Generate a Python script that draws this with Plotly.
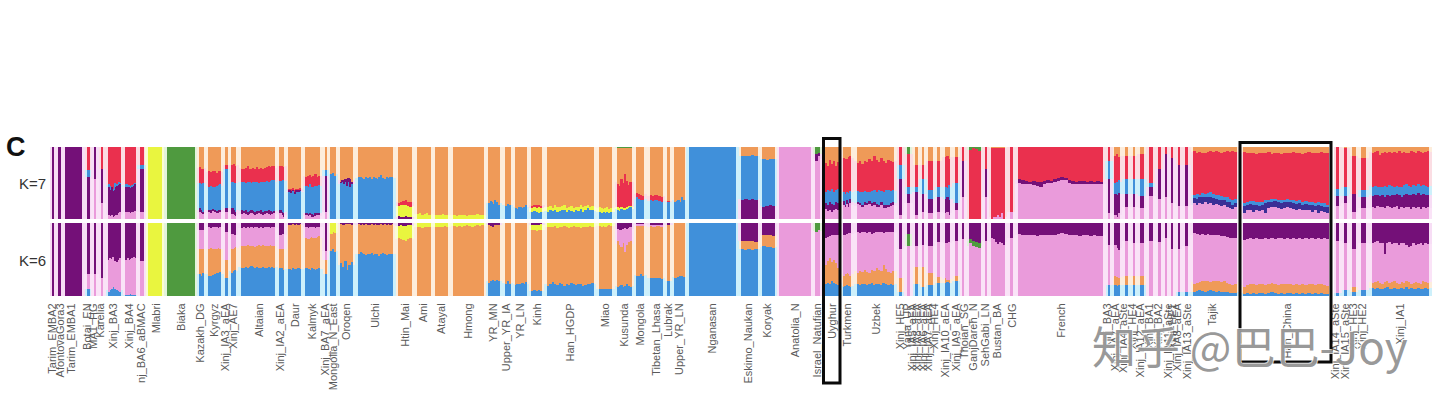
import plotly.graph_objects as go

# Ancestry colours, one per inferred component
colors = {"g": "#4F9A3F", "o": "#EF9A58", "r": "#EA304E", "y": "#E9F53F",
          "b": "#4090DA", "d": "#3B2F96", "p": "#741078", "k": "#EA9BDB"}
# Pale tint of each component, seen in the gaps beside a column
tints = {"g": "#E2F3DC", "o": "#FDEDDC", "r": "#FBDDE3", "y": "#FAFDD2",
         "b": "#CDF0FB", "d": "#E6E2F6", "p": "#F7DDF5", "k": "#FAE3F7"}

# Population columns: name, first and last sample position on the axis, label position
populations = [
    "Tarim_EMBA2", "AfontovaGora3", "Tarim_EMBA1", "Botai_EN", "MA1_HG", "Karelia", "Xinj_BA3", "Xinj_BA4",
    "nj_BA6_aBMAC", "Mlabri", "Biaka", "Kazakh_DG", "Kyrgyz", "Xinj_IA3_aEA", "Xinj_AE7", "Altaian",
    "Xinj_IA2_aEA", "Daur", "Kalmyk", "Xinj_BA7_aEA", "Mongolia_N_East", "Oroqen", "Ulchi", "Htin_Mai",
    "Ami", "Atayal", "Hmong", "YR_MN", "Upper_YR_IA", "YR_LN", "Kinh", "Han_HGDP", "Miao", "Kusunda",
    "Mongola", "Tibetan_Lhasa", "Lubrak", "Upper_YR_LN", "Nganasan", "Eskimo_Naukan", "Koryak",
    "Anatolia_N", "Israel_Natufian", "Uyghur", "Turkmen", "Uzbek", "Xinj_HE5", "Yana_UP", "Xinj_IA5_aEA",
    "Xinj_IA8_aEA", "Xinj_IA6_aEA", "Xinj_IA7_aEA", "Xinj_HE4", "Xinj_IA10_aEA", "Xinj_IA9_aEA", "Thoian_SG",
    "GanjDareh_N", "SehGabi_LN", "Bustan_BA", "CHG", "French", "Xinj_BA3b", "Xinj_IA7b_aEA", "Xinj_IA4_aSte",
    "Xinj_HE4b", "Xinj_IA12_aEA", "Xinj_BA1", "Xinj_BA2", "Xinj_IA11_aSte", "Xinj_HE1", "Xinj_IA8b_aEA",
    "Xinj_IA13_aSte", "Tajik", "Han_China", "Xinj_IA14_aSte", "Xinj_IA15_aSte", "Xinj_HE3", "Xinj_HE2", "Xinj_IA1",
]
# Populations sampled twice share a printed name
printed_names = {"Xinj_BA3b": "Xinj_BA3", "Xinj_IA7b_aEA": "Xinj_IA7_aEA",
                 "Xinj_HE4b": "Xinj_HE4", "Xinj_IA8b_aEA": "Xinj_IA8_aEA"}
column_start = [
    52.7, 59, 65, 86.7, 94, 100.7, 108.3, 126, 140, 147.7, 166.7, 199.3, 208.3, 226, 232, 241, 280, 288.7,
    306, 324.7, 331, 340.3, 357.7, 397.7, 416.7, 435.3, 453, 488.7, 504.7, 515.3, 531.3, 547, 598.7, 617.3,
    636.3, 649.7, 667, 674.3, 689, 740.7, 762.3, 779.3, 815.3, 825, 843.3, 856.7, 899.3, 906.7, 914.7, 922,
    928.3, 930.8, 937.3, 944.7, 955, 962.7, 969, 984.7, 990.7, 1009.7, 1017.7, 1107.7, 1114.7, 1125, 1132.7,
    1140, 1149, 1158, 1165.3, 1171.3, 1177.7, 1185, 1193, 1242.7, 1336.3, 1344, 1352, 1361, 1371.7,
]
column_end = [
    54.3, 60.7, 82, 90, 96, 103, 121.3, 136, 143.7, 161.7, 195, 203.7, 221.3, 227.7, 236.3, 275.3, 284.3, 301.3,
    320, 326.7, 335.7, 352.7, 393.3, 411.7, 430.7, 448, 484, 499.7, 510.7, 526.7, 542.3, 593.7, 612.3, 631.7,
    644.3, 662.7, 670, 685, 736, 757.7, 775.3, 810.7, 820, 839, 851.3, 894.3, 902, 910, 917.7, 924,
    930.8, 933.3, 940.3, 950.3, 958, 964, 980.7, 986.7, 1005.3, 1013, 1103.3, 1110, 1120, 1128.3, 1135.3,
    1144.3, 1153.3, 1160.7, 1167, 1173, 1180.3, 1188.3, 1236.7, 1329, 1339.3, 1347.3, 1355.7, 1366.3, 1429.3,
]
label_pos = [
    52, 60, 71.7, 87, 93, 100.7, 113, 129, 141.7, 156, 181, 200.7, 214, 225, 233, 259, 280, 295.7,
    312.7, 325, 333, 346, 375.7, 405, 423, 441, 468, 493, 506, 520.7, 537, 570, 605.7, 624,
    640, 656, 668, 679, 712.7, 748, 767, 795, 817, 832, 847, 876, 900, 907.7, 912, 917.5,
    923, 928.5, 934, 945.7, 956, 964, 973, 985, 997.7, 1012, 1061.7, 1107, 1115, 1123.5, 1132,
    1140, 1149, 1158, 1168, 1172, 1177.5, 1187, 1212.7, 1287, 1335.7, 1345, 1353, 1362, 1400,
]

# Lower edge (percent of the column) of every component, listed top to bottom.
# A list with several values gives one edge per individual in the column.
k7 = {
    "Tarim_EMBA2": {"p": [100]}, "AfontovaGora3": {"p": [100]}, "Tarim_EMBA1": {"p": [100]},
    "Botai_EN": {"r": [32], "b": [42], "p": [100]},
    "MA1_HG": {"p": [45], "k": [100]},
    "Karelia": {"r": [30], "p": [78], "k": [100]},
    "Xinj_BA3": {"r": [52, 54, 55, 58, 50, 53, 52, 49, 50], "b": [56, 60, 54, 61, 60, 56, 54, 53, 52],
                 "p": [94, 96, 95, 97, 96, 95, 94, 92, 90], "k": [100]},
    "Xinj_BA4": {"r": [52, 54, 53, 55, 54, 52, 50], "b": [56, 58, 56, 57, 55, 54, 52],
                 "p": [90, 92, 90, 91, 90, 90, 89], "k": [100]},
    "nj_BA6_aBMAC": {"r": [25], "b": [30], "p": [90], "k": [100]},
    "Mlabri": {"y": [100]}, "Biaka": {"g": [100]},
    "Kazakh_DG": {"o": [28, 31, 30], "r": [50, 52, 50], "b": [85, 88, 90], "p": [90, 92, 93], "k": [100]},
    "Kyrgyz": {"o": [34, 35, 33, 34, 36, 33, 34], "r": [55, 54, 56, 55, 54, 53, 52],
               "b": [87, 88, 86, 87, 89, 88, 87], "p": [90, 91, 89, 90, 92, 91, 90], "k": [100]},
    "Xinj_IA3_aEA": {"o": [25], "r": [30], "b": [85], "p": [90], "k": [100]},
    "Xinj_AE7": {"o": [25, 24, 27], "r": [48, 52, 50], "b": [85, 88, 90], "p": [93, 94, 96], "k": [100]},
    "Altaian": {"o": [31, 30, 29, 26, 30, 31, 29, 30, 28, 31, 29, 30, 29, 28, 27, 28, 27, 26],
                "r": [49, 48, 50, 49, 48, 50, 49, 49, 48, 50, 49, 48, 49, 47, 48, 47, 46, 46],
                "b": [88, 89, 88, 90, 89, 88, 89, 90, 89, 89, 88, 90, 89, 89, 88, 89, 90, 89],
                "p": [93, 92, 93, 94, 93, 92, 93, 94, 93, 92, 93, 94, 93, 92, 93, 94, 93, 92], "k": [100]},
    "Xinj_IA2_aEA": {"o": [27, 26, 28], "r": [47, 48, 46], "b": [88, 90, 92], "p": [92, 94, 97], "k": [100]},
    "Daur": {"o": [58, 59, 57, 60, 58, 59, 57], "r": [61, 62, 60, 63, 61, 61, 60], "p": [62, 63, 61, 64, 62, 62, 61],
             "b": [100]},
    "Kalmyk": {"o": [41, 40, 39, 41, 40, 38, 41, 40], "r": [54, 55, 52, 55, 56, 54, 54, 53],
               "b": [92, 93, 91, 93, 94, 92, 91, 92], "p": [95, 96, 94, 97, 97, 96, 95, 94], "k": [100]},
    "Xinj_BA7_aEA": {"o": [32], "b": [40], "p": [90], "k": [100]},
    "Mongolia_N_East": {"o": [38, 36, 40], "b": [100]},
    "Oroqen": {"o": [49, 47, 46, 44, 47, 43, 45, 48], "p": [50, 49, 52, 48, 54, 48, 55, 51], "b": [100]},
    "Ulchi": {"o": [42, 41, 43, 44, 42, 43, 41, 44, 42, 43, 45, 42, 39, 43, 44, 42, 43, 42, 41],
              "b": [100]},
    "Htin_Mai": {"o": [78, 76, 75, 74, 76, 77], "r": [82, 81, 80, 80, 82, 83], "y": [96, 97, 97, 96, 97, 97], "p": [100]},
    "Ami": {"o": [93, 92, 94, 93, 92, 95], "y": [100]},
    "Atayal": {"o": [94, 95, 94, 93, 95, 94], "y": [100]},
    "Hmong": {"o": [95, 96, 95, 94, 95, 96, 95, 94, 95, 93, 94, 95], "y": [100]},
    "YR_MN": {"o": [78, 75, 76, 79, 74, 78, 77, 80], "b": [100]},
    "Upper_YR_IA": {"o": [82, 79, 80], "b": [100]},
    "YR_LN": {"o": [85, 86, 84, 83, 85, 84, 80], "b": [100]},
    "Kinh": {"o": [82, 81, 80, 81, 82], "r": [85, 84, 85, 84, 85], "y": [90, 89, 90, 91, 90], "b": [100]},
    "Han_HGDP": {"o": [84, 82, 85, 81, 83, 84, 82, 81, 85, 83, 82, 85, 84, 83, 81, 84, 82, 80, 84, 82],
                 "y": [90, 88, 89, 87, 90, 89, 87, 88, 90, 88, 89, 90, 87, 89, 86, 90, 87, 85, 88, 87], "b": [100]},
    "Miao": {"o": [84, 85, 86, 85, 84, 86, 85], "y": [90, 91, 90, 91, 90, 91, 90], "b": [100]},
    "Kusunda": {"g": [2], "o": [52, 54, 45, 50, 38, 47, 53, 49], "r": [83, 85, 84, 86, 85, 84, 83, 82],
                "y": [87, 89, 86, 88, 87, 86, 85, 84], "b": [100]},
    "Mongola": {"o": [64, 65, 66, 68], "r": [70, 72, 73, 74], "b": [100]},
    "Tibetan_Lhasa": {"o": [67, 68, 66, 67, 68, 70], "r": [74, 75, 73, 74, 75, 76], "b": [100]},
    "Lubrak": {"o": [75], "r": [77], "b": [100]},
    "Upper_YR_LN": {"o": [76, 75, 74, 76, 70, 74], "b": [100]},
    "Nganasan": {"b": [100]},
    "Eskimo_Naukan": {"o": [12, 13, 12, 11, 12], "b": [73, 72, 74, 72, 73], "p": [100]},
    "Koryak": {"o": [17, 18, 17, 16], "b": [83, 82, 80, 82], "p": [100]},
    "Anatolia_N": {"k": [100]},
    "Israel_Natufian": {"g": [10, 9], "p": [20, 12], "k": [100]},
    "Uyghur": {"o": [22, 26, 18, 24, 20, 27, 21], "r": [62, 60, 61, 59, 62, 60, 58],
               "b": [78, 80, 77, 79, 81, 76, 78], "p": [86, 89, 87, 90, 88, 86, 87], "k": [100]},
    "Turkmen": {"o": [15, 17, 16, 14, 12], "r": [63, 65, 62, 64, 61], "b": [75, 80, 74, 78, 72],
                "p": [80, 84, 79, 83, 78], "k": [100]},
    "Uzbek": {"o": [22, 20, 23, 19, 21, 17, 20, 13, 18, 21, 15, 19, 22, 18, 20, 21],
              "r": [61, 62, 63, 61, 62, 63, 61, 60, 62, 60, 61, 62, 60, 60, 61, 60],
              "b": [76, 78, 80, 77, 78, 75, 78, 77, 79, 80, 76, 80, 81, 80, 78, 76],
              "p": [79, 80, 83, 81, 80, 79, 82, 81, 83, 84, 80, 85, 85, 84, 82, 80], "k": [100]},
    "Xinj_HE5": {"r": [25], "b": [45], "p": [95], "k": [100]},
    "Yana_UP": {"g": [10], "r": [55], "b": [65], "p": [78], "k": [100]},
    "Xinj_IA5_aEA": {"o": [25], "r": [55], "b": [62], "p": [95], "k": [100]},
    "Xinj_IA8_aEA": {"o": [25], "r": [45], "b": [65], "p": [90], "k": [100]},
    "Xinj_IA6_aEA": {"o": [20], "r": [60], "b": [72], "p": [92], "k": [100]},
    "Xinj_IA7_aEA": {"o": [20], "r": [60], "b": [72], "p": [92], "k": [100]},
    "Xinj_HE4": {"o": [20], "r": [55], "b": [70], "p": [90], "k": [100]},
    "Xinj_IA10_aEA": {"o": [14, 13, 16], "r": [55, 57, 53], "b": [72, 70, 74], "p": [92, 90, 95], "k": [100]},
    "Xinj_IA9_aEA": {"o": [14], "r": [50], "b": [78], "p": [88], "k": [100]},
    "Thoian_SG": {"r": [20], "p": [70], "k": [100]},
    "GanjDareh_N": {"g": [4, 2, 3, 5], "r": [100]},
    "SehGabi_LN": {"r": [30], "p": [70], "k": [100]},
    "Bustan_BA": {"o": [1], "r": [100, 98, 97, 94, 98, 92, 100], "k": [100]},
    "CHG": {"r": [90], "k": [100]},
    "French": {"r": [45, 46, 47, 48, 47, 48, 49, 47, 46, 47, 45, 43, 42, 43, 46, 47, 48, 47, 47, 48, 47, 48, 47, 48],
               "p": [50, 51, 52, 52, 53, 54, 55, 52, 50, 50, 49, 47, 46, 46, 50, 52, 52, 52, 51, 52, 51, 52, 51, 52],
               "k": [100]},
    "Xinj_BA3b": {"r": [20], "b": [45], "p": [92], "k": [100]},
    "Xinj_IA7b_aEA": {"o": [12, 10, 14], "r": [50, 48, 46], "b": [65, 66, 64], "p": [95, 97, 92], "k": [100]},
    "Xinj_IA4_aSte": {"o": [12], "r": [45], "b": [65], "p": [83], "k": [100]},
    "Xinj_HE4b": {"o": [12], "r": [45], "b": [65], "p": [83], "k": [100]},
    "Xinj_IA12_aEA": {"o": [10], "r": [45], "b": [68], "p": [85], "k": [100]},
    "Xinj_BA1": {"r": [50], "b": [55], "p": [68], "k": [100]},
    "Xinj_BA2": {"r": [30], "p": [72], "k": [100]},
    "Xinj_IA11_aSte": {"r": [10], "p": [70], "k": [100]},
    "Xinj_HE1": {"r": [15], "p": [78], "k": [100]},
    "Xinj_IA8b_aEA": {"r": [25], "p": [82], "k": [100]},
    "Xinj_IA13_aSte": {"r": [25], "p": [82], "k": [100]},
    "Tajik": {"o": [6, 8, 7, 9, 8, 7, 6, 7, 5, 7, 8, 7, 6, 7, 5, 7],
              "r": [66, 65, 66, 64, 65, 64, 63, 65, 66, 67, 68, 69, 70, 72, 74, 72],
              "b": [71, 72, 70, 69, 70, 69, 69, 71, 72, 73, 74, 74, 76, 77, 80, 78],
              "d": [78, 80, 78, 79, 77, 79, 78, 80, 79, 81, 82, 81, 83, 85, 86, 83], "k": [100]},
    "Han_China": {"o": [7, 8, 9, 8, 10, 8, 9, 8, 7, 10, 9, 8, 10, 9, 8, 9, 7, 8, 9, 10, 8, 7, 8, 9, 8, 7, 8, 8],
                  "r": [78, 76, 75, 75, 76, 77, 76, 74, 73, 72, 72, 73, 74, 73, 72, 73, 74, 75, 74, 76, 75, 76, 77, 78, 77, 78, 78, 80],
                  "b": [82, 80, 79, 80, 81, 82, 81, 78, 77, 76, 75, 77, 78, 77, 76, 77, 78, 79, 78, 80, 79, 80, 81, 82, 81, 82, 83, 84],
                  "d": [92, 87, 88, 90, 88, 89, 88, 92, 85, 84, 83, 85, 86, 85, 84, 85, 86, 87, 86, 88, 87, 88, 90, 88, 91, 89, 90, 92],
                  "k": [100]},
    "Xinj_IA14_aSte": {"r": [58], "b": [68], "p": [82], "k": [100]},
    "Xinj_IA15_aSte": {"o": [2], "r": [55], "b": [68], "p": [78], "k": [100]},
    "Xinj_HE3": {"o": [12], "r": [65], "p": [90], "k": [100]},
    "Xinj_HE2": {"o": [15], "r": [60], "b": [70], "p": [85], "k": [100]},
    "Xinj_IA1": {"o": [8, 7, 6, 11, 8, 7, 9, 7, 8, 7, 9, 6, 8, 7, 8, 9, 6, 7, 8, 6, 7, 8, 7, 6],
                 "r": [55, 54, 55, 56, 55, 54, 55, 53, 54, 55, 54, 55, 55, 53, 52, 54, 55, 53, 54, 52, 54, 53, 54, 55],
                 "b": [68, 66, 67, 68, 66, 69, 67, 68, 66, 67, 65, 67, 69, 66, 65, 67, 66, 65, 66, 64, 66, 65, 67, 66],
                 "p": [83, 85, 82, 84, 83, 85, 82, 84, 85, 84, 82, 86, 84, 85, 83, 84, 86, 83, 85, 84, 86, 83, 85, 84],
                 "k": [100]},
}

k6 = {
    "Tarim_EMBA2": {"p": [100]}, "AfontovaGora3": {"p": [100]}, "Tarim_EMBA1": {"p": [100]},
    "Botai_EN": {"p": [70], "k": [90], "b": [100]},
    "MA1_HG": {"p": [70], "k": [100]},
    "Karelia": {"p": [75], "k": [100]},
    "Xinj_BA3": {"p": [50, 48, 49, 47, 52, 58, 54, 50, 48], "k": [94, 92, 90, 88, 90, 91, 92, 93, 94], "b": [100]},
    "Xinj_BA4": {"p": [50, 48, 50, 49, 48, 47, 48], "k": [99, 98, 98, 97, 98, 98, 99], "b": [100]},
    "nj_BA6_aBMAC": {"p": [52], "k": [100]},
    "Mlabri": {"y": [100]}, "Biaka": {"g": [100]},
    "Kazakh_DG": {"p": [10], "k": [35], "o": [70, 72, 68], "b": [100]},
    "Kyrgyz": {"p": [6, 7, 6, 5, 6, 7, 6], "k": [36, 34, 35, 36, 35, 34, 36], "o": [73, 72, 71, 70, 69, 68, 67], "b": [100]},
    "Xinj_IA3_aEA": {"p": [12], "k": [50], "o": [75], "b": [100]},
    "Xinj_AE7": {"p": [15, 17, 16], "k": [35, 34, 33], "o": [68, 66, 64], "b": [100]},
    "Altaian": {"p": [7, 6, 7, 6, 7, 6, 7, 6, 5, 7, 6, 7, 6, 5, 6, 7, 6, 5],
                "k": [31, 32, 31, 30, 31, 32, 31, 33, 31, 30, 32, 30, 31, 32, 31, 30, 32, 31],
                "o": [62, 61, 60, 62, 60, 59, 60, 61, 60, 62, 61, 60, 61, 62, 60, 61, 60, 61], "b": [100]},
    "Xinj_IA2_aEA": {"p": [16, 17, 15], "k": [35, 34, 36], "o": [62, 61, 64], "b": [100]},
    "Daur": {"p": [2, 3, 1, 2, 1, 2, 1], "o": [63, 64, 62, 63, 63, 62, 63], "b": [100]},
    "Kalmyk": {"p": [6, 7, 6, 5, 6, 7, 6, 5], "k": [20, 22, 20, 19, 20, 21, 19, 18], "o": [62, 63, 64, 62, 63, 64, 63, 62], "b": [100]},
    "Xinj_BA7_aEA": {"p": [38], "k": [50], "o": [70], "b": [100]},
    "Mongolia_N_East": {"y": [15, 12, 14], "o": [38, 36, 40], "b": [100]},
    "Oroqen": {"p": [1, 2, 1, 1, 1, 2], "o": [55, 60, 52, 65, 58, 54], "b": [100]},
    "Ulchi": {"p": [1, 2, 1, 2, 1, 3, 2, 1, 2, 1, 2, 3, 1, 2, 1, 2, 1, 2, 1],
              "o": [42, 40, 41, 43, 44, 42, 43, 41, 44, 42, 43, 45, 42, 41, 43, 44, 42, 43, 42], "b": [100]},
    "Htin_Mai": {"p": [4, 3, 4, 4, 3, 3], "y": [20, 22, 23, 24, 22, 20], "o": [100]},
    "Ami": {"y": [6, 5, 7, 6, 5, 6], "o": [100]},
    "Atayal": {"y": [5, 6, 5, 5, 4, 5], "o": [100]},
    "Hmong": {"y": [4, 5, 4, 5, 4, 3, 4, 5, 4, 3, 4, 3], "o": [100]},
    "YR_MN": {"p": [3, 4, 2, 5, 2, 3, 2, 3], "o": [82, 79, 81, 78, 80, 82, 78, 80], "b": [100]},
    "Upper_YR_IA": {"o": [84, 80, 84], "b": [100]},
    "YR_LN": {"o": [85, 84, 83, 84, 82, 83, 81], "b": [100]},
    "Kinh": {"p": [2, 3, 2, 2, 1], "y": [9, 10, 11, 10, 9], "o": [93, 92, 93, 92, 93], "b": [100]},
    "Han_HGDP": {"y": [6, 5, 6, 4, 7, 5, 6, 4, 5, 7, 6, 4, 6, 5, 7, 5, 6, 5, 4, 6],
                 "o": [86, 84, 81, 83, 85, 82, 84, 86, 83, 85, 82, 84, 85, 83, 84, 86, 85, 84, 83, 82], "b": [100]},
    "Miao": {"y": [4, 5, 4, 5, 4, 3, 4], "o": [90, 91, 90, 91, 90, 91, 90], "b": [100]},
    "Kusunda": {"p": [8, 10, 9, 8, 7, 8, 7, 6], "k": [24, 30, 33, 28, 40, 30, 26, 24], "o": [88, 86, 85, 87, 86, 84, 86, 87], "b": [100]},
    "Mongola": {"p": [2], "k": [4], "o": [73, 72, 70, 72], "b": [100]},
    "Tibetan_Lhasa": {"p": [3, 3, 4, 3, 3, 4], "k": [4, 5, 5, 4, 4, 5], "o": [76, 75, 76, 75, 76, 77], "b": [100]},
    "Lubrak": {"p": [3], "o": [80], "b": [100]},
    "Upper_YR_LN": {"o": [76, 75, 74, 73, 72, 74], "b": [100]},
    "Nganasan": {"b": [100]},
    "Eskimo_Naukan": {"p": [24, 25, 24, 25, 26], "o": [36, 37, 35, 37, 36], "b": [100]},
    "Koryak": {"p": [16, 17, 16, 18], "o": [31, 33, 33, 34], "b": [100]},
    "Anatolia_N": {"k": [100]},
    "Israel_Natufian": {"g": [12, 10], "k": [100]},
    "Uyghur": {"p": [20, 19, 18, 17, 16, 16, 16], "k": [58, 52, 48, 53, 50, 55, 62], "o": [84, 82, 83, 80, 82, 83, 85], "b": [100]},
    "Turkmen": {"p": [17, 16, 15, 14, 14], "k": [72, 70, 68, 70, 72], "o": [88, 86, 85, 86, 87], "b": [100]},
    "Uzbek": {"p": [13, 14, 12, 13, 14, 13, 15, 14, 13, 12, 13, 14, 12, 13, 12, 13],
              "k": [69, 66, 67, 65, 67, 68, 65, 66, 62, 65, 66, 58, 63, 67, 68, 66],
              "o": [84, 85, 84, 83, 85, 84, 82, 85, 83, 84, 85, 82, 83, 85, 84, 85], "b": [100]},
    "Xinj_HE5": {"p": [35], "k": [75], "o": [95], "b": [100]},
    "Yana_UP": {"p": [15], "g": [32], "k": [100]},
    "Xinj_IA5_aEA": {"p": [32], "k": [60], "o": [84], "b": [100]},
    "Xinj_IA8_aEA": {"p": [30], "k": [60], "o": [88], "b": [100]},
    "Xinj_IA6_aEA": {"p": [32], "k": [68], "o": [85], "b": [100]},
    "Xinj_IA7_aEA": {"p": [32], "k": [68], "o": [85], "b": [100]},
    "Xinj_HE4": {"p": [26], "k": [74], "o": [82], "b": [100]},
    "Xinj_IA10_aEA": {"p": [27, 28, 26], "k": [76, 78, 78], "o": [82, 81, 82], "b": [100]},
    "Xinj_IA9_aEA": {"p": [25], "k": [72], "o": [80], "b": [100]},
    "Thoian_SG": {"p": [22], "k": [100]},
    "GanjDareh_N": {"p": [22, 24, 26, 28], "g": [28, 31, 33, 34], "k": [100]},
    "SehGabi_LN": {"p": [25], "k": [100]},
    "Bustan_BA": {"p": [20, 22, 26, 29, 26, 28, 30], "k": [100]},
    "CHG": {"p": [20], "k": [100]},
    "French": {"p": [15, 16, 16, 17, 17, 18, 17, 16, 17, 17, 16, 15, 14, 15, 16, 17, 17, 18, 17, 17, 18, 17, 18, 18],
               "k": [100]},
    "Xinj_BA3b": {"p": [30], "k": [85], "b": [100]},
    "Xinj_IA7b_aEA": {"p": [30, 34, 37], "k": [72, 74, 75], "o": [85, 86, 85], "b": [100]},
    "Xinj_IA4_aSte": {"p": [24], "k": [72], "o": [85], "b": [100]},
    "Xinj_HE4b": {"p": [27], "k": [72], "o": [85], "b": [100]},
    "Xinj_IA12_aEA": {"p": [28], "k": [72], "o": [85], "b": [100]},
    "Xinj_BA1": {"p": [24], "k": [100]},
    "Xinj_BA2": {"p": [26], "k": [100]},
    "Xinj_IA11_aSte": {"p": [20], "k": [100]},
    "Xinj_HE1": {"p": [35], "k": [100]},
    "Xinj_IA8b_aEA": {"p": [35], "k": [95], "b": [100]},
    "Xinj_IA13_aSte": {"p": [32], "k": [95], "b": [100]},
    "Tajik": {"p": [14, 15, 16, 15, 16, 15, 16, 17, 16, 17, 18, 18, 19, 20, 20, 21],
              "k": [84, 82, 81, 80, 79, 80, 81, 80, 79, 80, 81, 80, 82, 84, 85, 84],
              "o": [94, 93, 92, 93, 94, 93, 92, 93, 94, 93, 94, 95, 95, 96, 96, 96], "b": [100]},
    "Han_China": {"p": [23, 22, 21, 22, 21, 22, 22, 21, 22, 21, 22, 21, 21, 22, 21, 22, 21, 22, 21, 22, 21, 22, 21, 22, 21, 22, 21, 22],
                  "k": [88, 85, 84, 83, 85, 84, 83, 85, 84, 82, 84, 85, 83, 84, 83, 84, 85, 84, 85, 84, 85, 83, 84, 85, 84, 83, 85, 86],
                  "o": [97, 96, 97, 96, 97, 96, 96, 97, 96, 95, 96, 97, 96, 97, 96, 96, 97, 96, 97, 96, 97, 96, 97, 96, 97, 96, 97, 97],
                  "b": [100]},
    "Xinj_IA14_aSte": {"p": [25], "k": [96], "b": [100]},
    "Xinj_IA15_aSte": {"p": [27], "k": [92], "b": [100]},
    "Xinj_HE3": {"p": [35], "k": [88], "o": [94], "b": [100]},
    "Xinj_HE2": {"p": [28], "k": [92], "b": [100]},
    "Xinj_IA1": {"p": [27, 26, 25, 28, 27, 42, 28, 26, 29, 27, 28, 30, 27, 28, 30, 33, 31, 28, 30, 29, 27, 30, 28, 29],
                 "k": [82, 81, 80, 82, 83, 81, 80, 82, 81, 80, 82, 83, 81, 82, 80, 81, 83, 82, 81, 82, 83, 80, 81, 82],
                 "o": [89, 90, 89, 91, 90, 89, 88, 90, 91, 89, 90, 91, 89, 90, 88, 90, 89, 91, 90, 89, 90, 91, 89, 90],
                 "b": [100]},
}

panels = [(k7, "x", "y"), (k6, "x2", "y2")]
fig = go.Figure()

for table, xref, yref in panels:
    halo = {c: dict(x=[], w=[], base=[], h=[]) for c in colors}
    solid = {c: dict(x=[], w=[], base=[], h=[]) for c in colors}
    for name, left, right in zip(populations, column_start, column_end):
        layers = table[name]
        count = max(len(v) for v in layers.values())
        step = (right - left) / count
        for i in range(count):
            top = 0
            for comp, edges in layers.items():
                edge = edges[i] if len(edges) > 1 else edges[0]
                edge = max(edge, top)
                solid[comp]["x"].append(left + step * (i + 0.5))
                solid[comp]["w"].append(step + 0.15)
                solid[comp]["base"].append(top)
                solid[comp]["h"].append(edge - top)
                top = edge
        # Pale tint spilling into the gap on both sides of a column
        top = 0
        for comp, edges in layers.items():
            edge = max(sum(edges) / len(edges), top)
            halo[comp]["x"].append((left + right) / 2)
            halo[comp]["w"].append(right - left + 5.5)
            halo[comp]["base"].append(top)
            halo[comp]["h"].append(edge - top)
            top = edge
    for store, palette in ((halo, tints), (solid, colors)):
        for comp, d in store.items():
            if d["x"]:
                fig.add_bar(x=d["x"], y=d["h"], base=d["base"], width=d["w"], xaxis=xref, yaxis=yref,
                            marker=dict(color=palette[comp], line_width=0),
                            showlegend=False, hoverinfo="skip")

H = 406.0
fig.update_layout(
    width=1440, height=406, margin=dict(l=0, r=0, t=0, b=0),
    paper_bgcolor="white", plot_bgcolor="white", barmode="overlay", bargap=0,
    xaxis=dict(range=[0, 1440], domain=[0, 1], anchor="y", showticklabels=False, showgrid=False, zeroline=False, ticks=""),
    xaxis2=dict(range=[0, 1440], domain=[0, 1], anchor="y2", showgrid=False, zeroline=False, showline=False,
                tickmode="array", tickvals=label_pos,
                ticktext=[printed_names.get(n, n) for n in populations], tickangle=-90,
                ticks="outside", ticklen=2, tickcolor="rgba(0,0,0,0)",
                tickfont=dict(family="Liberation Sans", size=11, color="#5a5a5a")),
    yaxis=dict(range=[100, 0], domain=[1 - 219 / H, 1 - 147 / H], anchor="x", visible=False),
    yaxis2=dict(range=[100, 0], domain=[1 - 296 / H, 1 - 223 / H], anchor="x2", visible=False),
)

# Outlined populations of interest
fig.add_shape(type="rect", xref="x2", yref="paper", x0=823.5, x1=840,
              y0=1 - 383 / H, y1=1 - 138.5 / H, line=dict(color="#0a0a0a", width=3))
fig.add_shape(type="rect", xref="x2", yref="paper", x0=1240, x1=1331,
              y0=1 - 362 / H, y1=1 - 142.5 / H, line=dict(color="#0a0a0a", width=3))


def note(text, x, y, size, color, weight="normal", family="Liberation Sans", shadow="none"):
    fig.add_annotation(text=text, xref="paper", yref="paper", x=x / 1440, y=1 - y / H, showarrow=False,
                       xanchor="center", yanchor="middle",
                       font=dict(family=family, size=size, color=color, weight=weight, shadow=shadow))


note("C", 15.5, 147, 27, "#111111", weight="bold")
note("K=7", 32, 183, 15, "#333333")
note("K=6", 32, 260, 15, "#333333")
note("知乎 @巴巴-Joy", 1250, 345, 44, "rgba(125,125,125,0.8)", family="Noto Sans CJK SC",
     shadow="1px 1px 0 #ffffff, -1px -1px 0 #ffffff")

fig.write_html("out.html")
